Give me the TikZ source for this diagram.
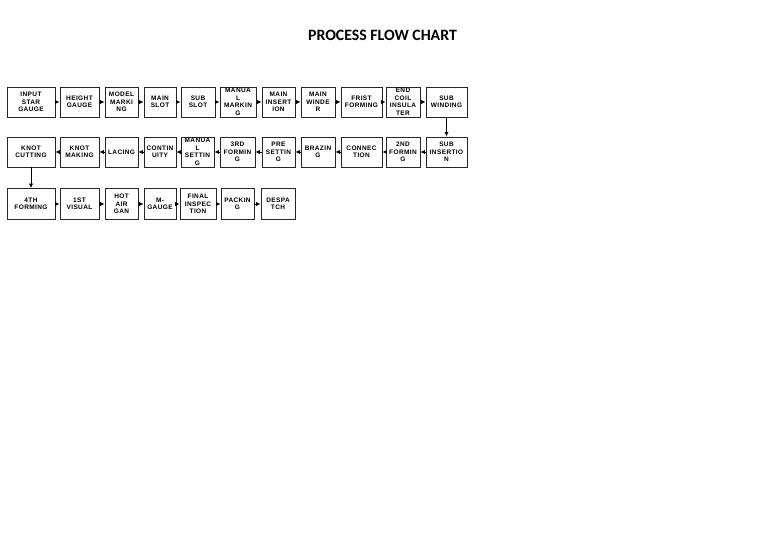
\documentclass[tikz,border=0pt]{standalone}
\usepackage{fontspec}
\setmainfont{Liberation Sans}
\newfontfamily\titlefont{Carlito}
\newfontfamily\boxfont[LetterSpace=6]{Liberation Sans}
\usetikzlibrary{arrows.meta}
\tikzset{
  pbox/.style={draw=black!85, line width=0.8pt, rectangle, inner sep=0pt, minimum height=30pt},
  ptext/.style={font=\boxfont\bfseries\fontsize{6.5}{7.5}\selectfont, align=center, inner sep=0pt, text=black},
  flow/.style={-{Latex[length=4.5pt,width=4.2pt]}, line width=0.8pt, draw=black},
}
\newcommand{\pb}[5]{\node[pbox, minimum width=#3pt, label={[ptext]center:{#5}}] (#1) at (#2,#4) {};}
\begin{document}
\begin{tikzpicture}[x=1pt,y=-1pt]
\useasboundingbox (0,0) rectangle (768,543);
\node[font=\titlefont\bfseries\fontsize{15.8}{18}\selectfont] (title) at (382.5,35) {PROCESS FLOW CHART};
% row 1
\pb{a1}{31}{48}{102}{INPUT\\STAR\\GAUGE}
\pb{a2}{79.5}{39}{102}{HEIGHT\\GAUGE}
\pb{a3}{121.5}{33}{102}{MODEL\\MARKI\\NG}
\pb{a4}{160}{32}{102}{MAIN\\SLOT}
\pb{a5}{198}{34}{102}{SUB\\SLOT}
\pb{a6}{238}{36}{102}{MANUA\\L\\MARKIN\\G}
\pb{a7}{278.5}{33}{102}{MAIN\\INSERT\\ION}
\pb{a8}{318}{34}{102}{MAIN\\WINDE\\R}
\pb{a9}{361.5}{41}{102}{FRIST\\FORMING}
\pb{a10}{403}{34}{102}{END\\COIL\\INSULA\\TER}
\pb{a11}{446.5}{41}{102}{SUB\\WINDING}
% row 2
\pb{b1}{31}{48}{152}{KNOT\\CUTTING}
\pb{b2}{79.5}{39}{152}{KNOT\\MAKING}
\pb{b3}{121.5}{33}{152}{LACING}
\pb{b4}{160}{32}{152}{CONTIN\\UITY}
\pb{b5}{197.5}{33}{152}{MANUA\\L\\SETTIN\\G}
\pb{b6}{237.5}{35}{152}{3RD\\FORMIN\\G}
\pb{b7}{278.5}{33}{152}{PRE\\SETTIN\\G}
\pb{b8}{318}{34}{152}{BRAZIN\\G}
\pb{b9}{361.5}{41}{152}{CONNEC\\TION}
\pb{b10}{403}{34}{152}{2ND\\FORMIN\\G}
\pb{b11}{446.5}{41}{152}{SUB\\INSERTIO\\N}
% row 3
\tikzset{pbox/.append style={minimum height=31pt}}
\pb{c1}{31}{48}{204}{4TH\\FORMING}
\pb{c2}{79.5}{39}{204}{1ST\\VISUAL}
\pb{c3}{121.5}{33}{204}{HOT\\AIR\\GAN}
\pb{c4}{160}{32}{204}{M-\\GAUGE}
\pb{c5}{198}{36}{204}{FINAL\\INSPEC\\TION}
\pb{c6}{237.5}{33}{204}{PACKIN\\G}
\pb{c7}{278}{34}{204}{DESPA\\TCH}
% arrows row 1
\foreach \u/\v in {a1/a2,a2/a3,a3/a4,a4/a5,a5/a6,a6/a7,a7/a8,a8/a9,a9/a10,a10/a11}
  \draw[flow] (\u.east) -- (\v.west);
\draw[flow] (a11.south) -- (b11.north);
% arrows row 2
\foreach \u/\v in {b11/b10,b10/b9,b9/b8,b8/b7,b7/b6,b6/b5,b5/b4,b4/b3,b3/b2,b2/b1}
  \draw[flow] (\u.west) -- (\v.east);
\draw[flow] (b1.south) -- (c1.north);
% arrows row 3
\foreach \u/\v in {c1/c2,c2/c3,c3/c4,c4/c5,c5/c6,c6/c7}
  \draw[flow] (\u.east) -- (\v.west);
\end{tikzpicture}
\end{document}
